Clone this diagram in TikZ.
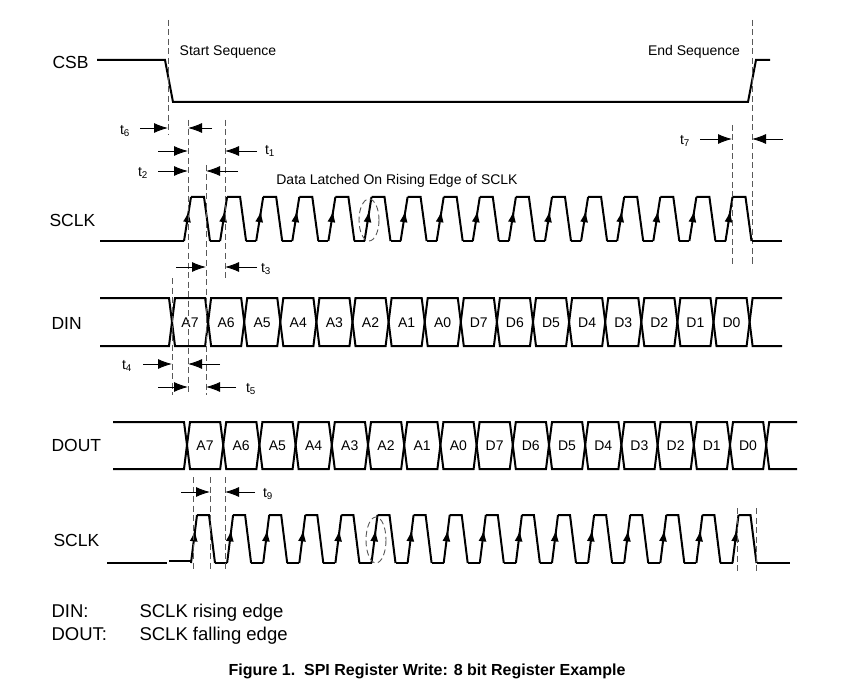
\documentclass[tikz,border=0pt]{standalone}
\usepackage{fontspec}
\setmainfont{Liberation Sans}
\usetikzlibrary{arrows.meta,decorations.markings}
\begin{document}
\begin{tikzpicture}[x=1pt,y=-1pt,
  sig/.style={line width=2pt,line join=miter},
  dsh/.style={gray!70!black,line width=0.9pt,dash pattern=on 6pt off 3.5pt},
  tarr/.style={-{Latex[length=14pt,width=10pt]},line width=0.9pt},
  cell/.style={font=\fontsize{14}{14}\selectfont},
  sname/.style={font=\fontsize{17.5}{18}\selectfont,anchor=west},
  leg/.style={font=\fontsize{18.5}{18}\selectfont,anchor=base west},
  tl/.style={font=\fontsize{14}{14}\selectfont},
  up/.style={postaction={decorate},decoration={markings,mark=at position 0.7 with {\arrow{Latex[length=12pt,width=8pt]}}}}]
\useasboundingbox (0,0) rectangle (847,698);
% names
\node[sname] (ncsb) at (49,62) {CSB};
\node[sname] (nsclk) at (46,220) {SCLK};
\node[sname] (ndin) at (48,323) {DIN};
\node[sname] (ndout) at (48,445) {DOUT};
\node[sname] (nsclk2) at (50,540) {SCLK};
% CSB
\draw[sig] (97,60)--(165,60)--(173,102)--(748,102)--(756,60)--(770,60);
\node[tl] (ss) at (228,52) {Start Sequence};
\node[tl] (es) at (694,52) {End Sequence};
\draw[dsh] (168,20)--(168,135);
\draw[dsh] (752,20)--(752,265);
% SCLK1
\draw[sig] (100,241)--(184,241);
\foreach \k in {0,...,15}{
  \pgfmathsetmacro\r{184+36.1*\k}
  \draw[sig,up] (\r,241)--(\r+7,197);
  \draw[sig] (\r+7,197)--(\r+20,197)--(\r+26,241);
  \ifnum\k<15 \draw[sig] (\r+26,241)--(\r+36.1,241);\fi
}
\draw[sig] (751.5,241)--(782,241);
% SCLK2
\draw[sig] (107,563)--(167,563) (169,561)--(191,561)--(191,563);
\foreach \k in {0,...,15}{
  \pgfmathsetmacro\r{191+36.1*\k}
  \draw[sig,up] (\r,563)--(\r+6,515);
  \draw[sig] (\r+6,515)--(\r+18,515)--(\r+24,563);
  \ifnum\k<15 \draw[sig] (\r+24,563)--(\r+36.1,563);\fi
}
\draw[sig] (756.5,563)--(790,563);
% DIN
\draw[sig] (100,298)--(169,298)--(172,322)--(169,346)--(100,346);
\foreach \k/\t in {0/A7,1/A6,2/A5,3/A4,4/A3,5/A2,6/A1,7/A0,8/D7,9/D6,10/D5,11/D4,12/D3,13/D2,14/D1,15/D0}{
  \pgfmathsetmacro\b{172+36.1*\k}
  \draw[sig] (\b,322)--(\b+3,298)--(\b+33.1,298)--(\b+36.1,322)--(\b+33.1,346)--(\b+3,346)--cycle;
  \node[cell] (din\k) at (\b+18,323) {\t};
}
\draw[sig] (749.6,322)--(752.6,298)--(782,298) (749.6,322)--(752.6,346)--(782,346);
% DOUT
\draw[sig] (113,422)--(184,422)--(187,445)--(184,469)--(113,469);
\foreach \k/\t in {0/A7,1/A6,2/A5,3/A4,4/A3,5/A2,6/A1,7/A0,8/D7,9/D6,10/D5,11/D4,12/D3,13/D2,14/D1,15/D0}{
  \pgfmathsetmacro\b{187+36.2*\k}
  \draw[sig] (\b,445)--(\b+3,422)--(\b+33.2,422)--(\b+36.2,445)--(\b+33.2,469)--(\b+3,469)--cycle;
  \node[cell] (dout\k) at (\b+18,446) {\t};
}
\draw[sig] (766.2,445)--(769.2,422)--(797,422) (766.2,445)--(769.2,469)--(797,469);
% ellipses
\draw[dsh] (369,220) ellipse (10 and 21);
\draw[dsh] (376,540) ellipse (10 and 23);
\node[tl] (dl) at (397,181) {Data Latched On Rising Edge of SCLK};
% dashed timing lines
\draw[dsh] (188,120)--(188,395);
\draw[dsh] (225,120)--(225,278);
\draw[dsh] (206,165)--(206,395);
\draw[dsh] (172,278)--(172,395);
\draw[dsh] (732,125)--(732,265);
\draw[dsh] (193,477)--(193,570);
\draw[dsh] (210,477)--(210,570);
\draw[dsh] (225,477)--(225,570);
\draw[dsh] (737,508)--(737,572);
\draw[dsh] (756,508)--(756,572);
% timing arrows
\coordinate (a1) at (140,128); \coordinate (a2) at (168,128);
\coordinate (a3) at (212,128); \coordinate (a4) at (188,128);
\draw[tarr] (a1)--(a2); \draw[tarr] (a3)--(a4);
\node[tl] (t6) at (125,131) {t\textsubscript{6}};
\coordinate (b1) at (158,151); \coordinate (b2) at (188,151);
\coordinate (b3) at (257,151); \coordinate (b4) at (225,151);
\draw[tarr] (b1)--(b2); \draw[tarr] (b3)--(b4);
\node[tl] (t1) at (270,151) {t\textsubscript{1}};
\coordinate (c1) at (158,171); \coordinate (c2) at (188,171);
\coordinate (c3) at (238,171); \coordinate (c4) at (206,171);
\draw[tarr] (c1)--(c2); \draw[tarr] (c3)--(c4);
\node[tl] (t2) at (143,173) {t\textsubscript{2}};
\coordinate (d1) at (176,267); \coordinate (d2) at (206,267);
\coordinate (d3) at (257,267); \coordinate (d4) at (225,267);
\draw[tarr] (d1)--(d2); \draw[tarr] (d3)--(d4);
\node[tl] (t3) at (266,269) {t\textsubscript{3}};
\coordinate (e1) at (143,364); \coordinate (e2) at (172,364);
\coordinate (e3) at (220,364); \coordinate (e4) at (188,364);
\draw[tarr] (e1)--(e2); \draw[tarr] (e3)--(e4);
\node[tl] (t4) at (127,366) {t\textsubscript{4}};
\coordinate (f1) at (158,387); \coordinate (f2) at (188,387);
\coordinate (f3) at (236,387); \coordinate (f4) at (206,387);
\draw[tarr] (f1)--(f2); \draw[tarr] (f3)--(f4);
\node[tl] (t5) at (251,389) {t\textsubscript{5}};
\coordinate (g1) at (181,492); \coordinate (g2) at (210,492);
\coordinate (g3) at (255,492); \coordinate (g4) at (225,492);
\draw[tarr] (g1)--(g2); \draw[tarr] (g3)--(g4);
\node[tl] (t9) at (268,494) {t\textsubscript{9}};
\coordinate (h1) at (700,139); \coordinate (h2) at (732,139);
\coordinate (h3) at (783,139); \coordinate (h4) at (752,139);
\draw[tarr] (h1)--(h2); \draw[tarr] (h3)--(h4);
\node[tl] (t7) at (685,141) {t\textsubscript{7}};
% legend
\node[leg] (l1) at (48,617) {DIN:};
\node[leg] (l2) at (48,640) {DOUT:};
\node[leg] (l3) at (136,617) {SCLK rising edge};
\node[leg] (l4) at (136,640) {SCLK falling edge};
\node[font=\bfseries\fontsize{16}{16}\selectfont] (cap) at (427,671) {Figure 1.\ \ SPI Register Write: 8 bit Register Example};
\end{tikzpicture}
\end{document}
